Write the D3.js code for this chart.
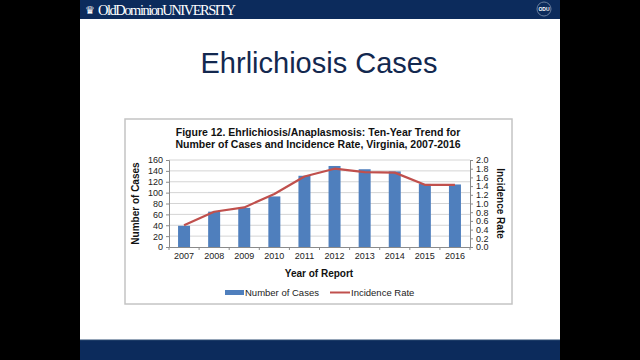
<!DOCTYPE html>
<html><head><meta charset="utf-8">
<script src="https://cdn.jsdelivr.net/npm/d3@7"></script>
<style>html,body{margin:0;padding:0;background:#000;}svg{display:block;}</style>
</head><body>
<script>
const years = ["2007","2008","2009","2010","2011","2012","2013","2014","2015","2016"];
const cases = [39, 65, 72, 93, 131, 149, 143, 139, 116, 115];
const rates = [0.50, 0.81, 0.91, 1.22, 1.62, 1.80, 1.72, 1.71, 1.43, 1.43];
const leftTicks = [0,20,40,60,80,100,120,140,160];
const rightTicks = [0,0.2,0.4,0.6,0.8,1.0,1.2,1.4,1.6,1.8,2.0];

const W = 640, H = 360;
const svg = d3.select("body").append("svg").attr("width", W).attr("height", H);
svg.append("rect").attr("width", W).attr("height", H).attr("fill", "#000");
// slide
svg.append("rect").attr("x", 80).attr("y", 0).attr("width", 480).attr("height", H).attr("fill", "#fff");
svg.append("rect").attr("x", 80).attr("y", 0).attr("width", 480).attr("height", 19).attr("fill", "#0c2b5c");
svg.append("rect").attr("x", 80).attr("y", 340).attr("width", 480).attr("height", 20).attr("fill", "#0c2b5c");
svg.append("line").attr("x1", 80).attr("x2", 560).attr("y1", 340).attr("y2", 340).attr("stroke", "#2a4a70").attr("stroke-width", 1);
// header logo
svg.append("text").attr("x", 85).attr("y", 14).attr("fill", "#fff").attr("font-family", "Liberation Serif, serif").attr("font-size", 11).text("♛");
svg.append("text").attr("x", 98).attr("y", 15).attr("fill", "#fff").attr("font-family", "Liberation Serif, serif").attr("font-size", 14.5).attr("textLength", 138).text("OldDominionUNIVERSITY");
svg.append("circle").attr("cx", 544).attr("cy", 9).attr("r", 7).attr("fill", "#0c2b5c").attr("stroke", "#6a7f9e").attr("stroke-width", 1);
svg.append("text").attr("x", 544).attr("y", 11).attr("text-anchor", "middle").attr("fill", "#fff").attr("font-family", "Liberation Sans, Arial").attr("font-size", 5).attr("font-weight", "bold").text("ODU");

// slide title
svg.append("text").attr("x", 319).attr("y", 73).attr("text-anchor", "middle").attr("fill", "#13284f")
  .attr("font-family", "Liberation Sans, Arial, sans-serif").attr("font-size", 29).text("Ehrlichiosis Cases");

// chart box
svg.append("rect").attr("x", 125).attr("y", 119).attr("width", 387).attr("height", 185)
  .attr("fill", "#fff").attr("stroke", "#c4c4c4").attr("stroke-width", 1.5);

const font = "Liberation Sans, Arial, sans-serif";
svg.append("text").attr("x", 318).attr("y", 136).attr("text-anchor", "middle").attr("font-family", font)
  .attr("font-size", 10.5).attr("font-weight", "bold").attr("fill", "#111").text("Figure 12. Ehrlichiosis/Anaplasmosis: Ten-Year Trend for");
svg.append("text").attr("x", 318).attr("y", 148).attr("text-anchor", "middle").attr("font-family", font)
  .attr("font-size", 10.5).attr("font-weight", "bold").attr("fill", "#111").text("Number of Cases and Incidence Rate, Virginia, 2007-2016");

const x0 = 169, x1 = 470, yTop = 160, yBot = 247;
const x = d3.scaleBand().domain(years).range([x0, x1]).paddingInner(0.6).paddingOuter(0.3);
const xOuter = d3.scaleBand().domain(years).range([x0, x1]);
const yL = d3.scaleLinear().domain([0, 160]).range([yBot, yTop]);
const yR = d3.scaleLinear().domain([0, 2.0]).range([yBot, yTop]);

// gridlines
svg.append("g").selectAll("line").data(leftTicks.filter(d => d > 0)).join("line")
  .attr("x1", x0).attr("x2", x1).attr("y1", d => yL(d)).attr("y2", d => yL(d))
  .attr("stroke", "#d4d4d4").attr("stroke-width", 1);

// bars
svg.append("g").selectAll("rect").data(cases).join("rect")
  .attr("x", (d, i) => xOuter(years[i]) + (xOuter.bandwidth() - 12) / 2)
  .attr("width", 12)
  .attr("y", d => yL(d)).attr("height", d => yBot - yL(d))
  .attr("fill", "#4f7fbd");

// line
const line = d3.line().x((d, i) => xOuter(years[i]) + xOuter.bandwidth() / 2).y(d => yR(d));
svg.append("path").datum(rates).attr("d", line).attr("fill", "none")
  .attr("stroke", "#c0504d").attr("stroke-width", 2.2).attr("stroke-linejoin", "round");

// axes
const axL = svg.append("g").attr("transform", `translate(${x0},0)`)
  .call(d3.axisLeft(yL).tickValues(leftTicks).tickSize(3).tickPadding(3));
const axR = svg.append("g").attr("transform", `translate(${x1},0)`)
  .call(d3.axisRight(yR).tickValues(rightTicks).tickSize(3).tickPadding(3).tickFormat(d3.format(".1f")));
const axB = svg.append("g").attr("transform", `translate(0,${yBot})`)
  .call(d3.axisBottom(xOuter).tickSize(0).tickPadding(6));
// category boundary ticks
svg.append("g").selectAll("line").data(d3.range(years.length + 1)).join("line")
  .attr("x1", i => x0 + i * xOuter.step()).attr("x2", i => x0 + i * xOuter.step())
  .attr("y1", yBot).attr("y2", yBot + 3).attr("stroke", "#8a8a8a");
[axL, axR, axB].forEach(a => {
  a.selectAll("path.domain").attr("stroke", "#8a8a8a");
  a.selectAll(".tick line").attr("stroke", "#8a8a8a");
  a.selectAll("text").attr("font-family", font).attr("font-size", 9).attr("fill", "#222");
});
axB.select("path.domain").attr("stroke", "#8a8a8a");

// axis titles
svg.append("text").attr("transform", `translate(139,${(yTop + yBot) / 2}) rotate(-90)`).attr("text-anchor", "middle")
  .attr("font-family", font).attr("font-size", 10).attr("font-weight", "bold").attr("fill", "#111").text("Number of Cases");
svg.append("text").attr("transform", `translate(497,${(yTop + yBot) / 2}) rotate(90)`).attr("text-anchor", "middle")
  .attr("font-family", font).attr("font-size", 10).attr("font-weight", "bold").attr("fill", "#111").text("Incidence Rate");
svg.append("text").attr("x", 319).attr("y", 277).attr("text-anchor", "middle")
  .attr("font-family", font).attr("font-size", 10).attr("font-weight", "bold").attr("fill", "#111").text("Year of Report");

// legend
const lg = svg.append("g");
lg.append("rect").attr("x", 225).attr("y", 290).attr("width", 19).attr("height", 5).attr("fill", "#4f7fbd");
lg.append("text").attr("x", 245).attr("y", 296).attr("font-family", font).attr("font-size", 9.5).attr("fill", "#222").text("Number of Cases");
lg.append("line").attr("x1", 330).attr("x2", 350).attr("y1", 292.5).attr("y2", 292.5).attr("stroke", "#c0504d").attr("stroke-width", 2);
lg.append("text").attr("x", 351).attr("y", 296).attr("font-family", font).attr("font-size", 9.5).attr("fill", "#222").text("Incidence Rate");
</script>
</body></html>
